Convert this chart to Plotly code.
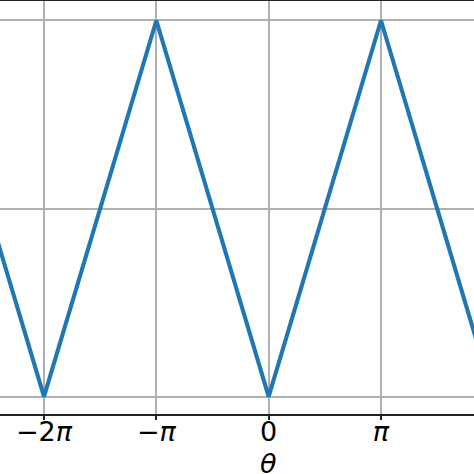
import numpy as np
import plotly.graph_objects as go

# vertices of the triangle wave, in multiples of pi
theta_pi = [-3, -2, -1, 0, 1, 2]
value_pi = [1, 0, 1, 0, 1, 0]

tick_pi = [-2, -1, 0, 1]
tick_text = ["−2<i>π</i>", "−<i>π</i>", "0", "<i>π</i>"]
ygrid_pi = [0, 0.5, 1]

x = [t * np.pi for t in theta_pi]
y = [v * np.pi for v in value_pi]

fig = go.Figure()
fig.add_trace(go.Scatter(
    x=x, y=y, mode="lines",
    line=dict(color="#1f77b4", width=4.1),
    showlegend=False, hoverinfo="skip",
))

fig.update_xaxes(
    range=[-2.3918 * np.pi, 1.8281 * np.pi],
    tickvals=[t * np.pi for t in tick_pi],
    ticktext=tick_text,
    ticks="outside", ticklen=4, tickwidth=1.5, tickcolor="#222",
    showline=True, linecolor="#222", linewidth=2, mirror=True,
    showgrid=True, gridcolor="#b0b0b0", gridwidth=1.5,
    zeroline=False, automargin=False,
    ticklabelstandoff=-11,
    tickfont=dict(family="DejaVu Sans", size=27, color="black"),
)
fig.update_yaxes(
    range=[-0.046 * np.pi, 1.0518 * np.pi],
    tickvals=[v * np.pi for v in ygrid_pi],
    showticklabels=False, ticks="",
    showline=False, zeroline=False, automargin=False,
    showgrid=True, gridcolor="#b0b0b0", gridwidth=1.5,
)
# x label sits under theta = 0 (centre of the original, uncropped axes)
fig.add_annotation(
    text="<i>θ</i>", x=0, xref="x", y=0, yref="paper",
    yanchor="middle", yshift=-49, showarrow=False,
    font=dict(family="DejaVu Sans", size=27, color="black"),
)
fig.update_layout(
    width=474, height=474,
    margin=dict(l=0, r=0, t=1, b=60, autoexpand=False),
    paper_bgcolor="white", plot_bgcolor="white",
)
# drop the browser's default 8px body margin so the figure fills the window
fig.write_html("out.html", config={"displayModeBar": False},
               post_script="document.body.style.margin='0';")
